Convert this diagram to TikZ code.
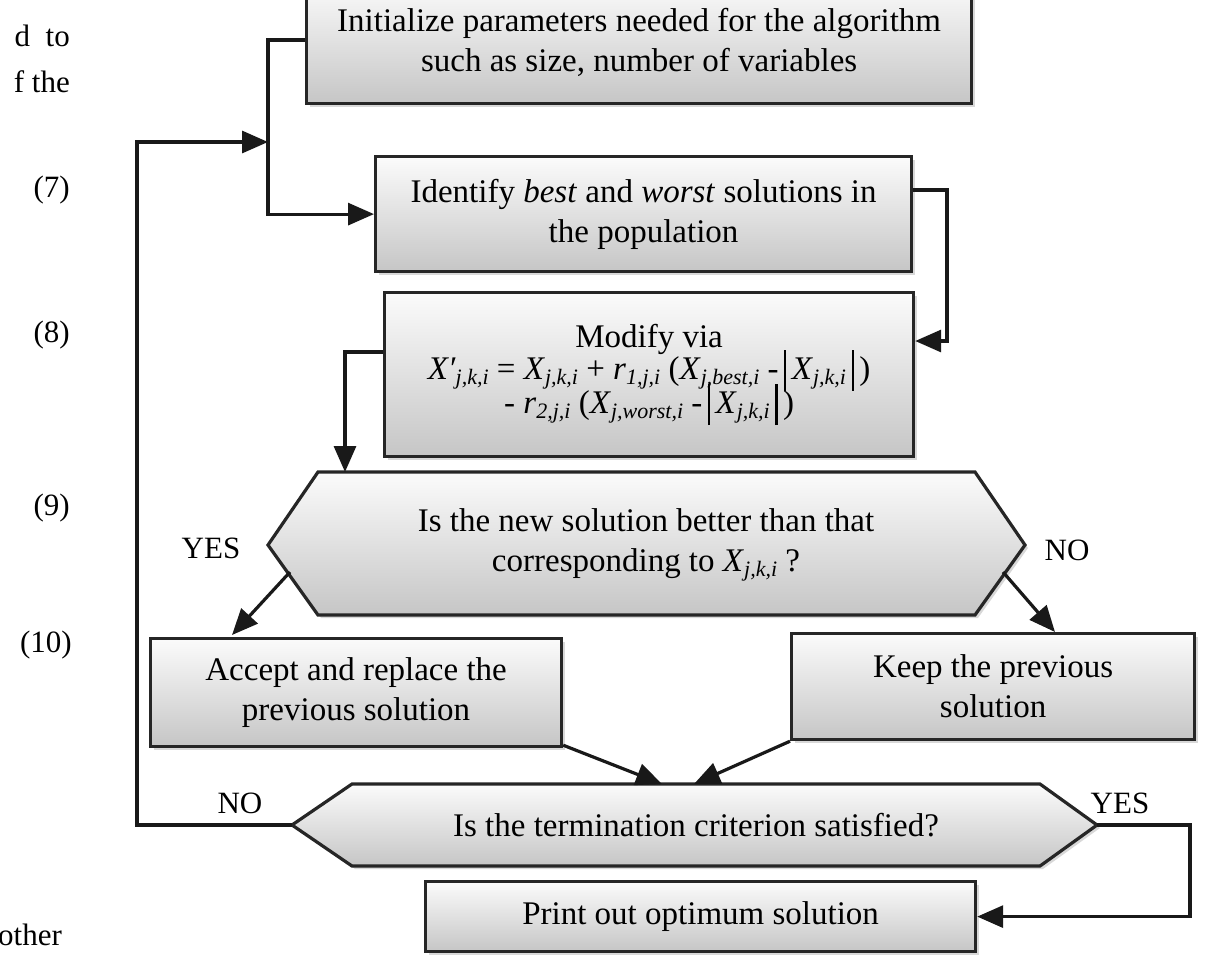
\documentclass[tikz,border=0pt]{standalone}
\usepackage{fontspec}
\setmainfont{Liberation Serif}
\usetikzlibrary{shadows,arrows.meta}
\newcommand{\sbx}[1]{\raisebox{-0.35ex}{\fontsize{22}{22}\selectfont\itshape #1}}
\newcommand{\vbar}{\,\rule[-0.35em]{2.2pt}{1.25em}\,}
\begin{document}
\begin{tikzpicture}[x=1pt,y=-1pt,
  box/.style={draw=black!85,line width=3.2pt,top color=gray!3,bottom color=gray!45,
     drop shadow={shadow xshift=3pt,shadow yshift=-3pt,fill=gray!60},
     align=center,font=\fontsize{33}{40}\selectfont,inner sep=0pt},
  hex/.style={draw=black!85,line width=3.2pt,top color=gray!3,bottom color=gray!45,
     drop shadow={shadow xshift=3pt,shadow yshift=-3pt,fill=gray!60}},
  txt/.style={font=\fontsize{33}{40}\selectfont,align=center,inner sep=0pt},
  lbl/.style={font=\fontsize{31}{34}\selectfont,inner sep=0pt},
  con/.style={line width=3.2pt,draw=black!90},
  arr/.style={con,-{Triangle[length=26pt,width=22pt]}}]
\useasboundingbox (0,0) rectangle (1214,962);
% left margin text
\node[lbl,anchor=east] (m1) at (70,36) {d\ \ to};
\node[lbl,anchor=east] (m2) at (70,82) {f the};
\node[lbl,anchor=east] (e7) at (70,190) {(7)};
\node[lbl,anchor=east] (e8) at (70,335) {(8)};
\node[lbl,anchor=east] (e9) at (70,508) {(9)};
\node[lbl,anchor=east] (e10) at (72,645) {(10)};
\node[lbl,anchor=west] (m3) at (-2,935) {other};
% boxes
\node[box,minimum width=665pt,minimum height=122pt,anchor=north west] (b1) at (305,-20)
  {\raisebox{-20pt}{\parbox{650pt}{\centering Initialize parameters needed for the algorithm\\ such as size, number of variables}}};
\node[box,minimum width=536pt,minimum height=115pt,anchor=north west] (b2) at (374,155)
  {Identify \textit{best} and \textit{worst} solutions in\\ the population};
\node[box,minimum width=529pt,minimum height=164pt,anchor=north west] (b3) at (383,291)
  {Modify via\\[-8pt]
   \textit{X′}\sbx{j,k,i} = \textit{X}\sbx{j,k,i} + \textit{r}\sbx{1,j,i} (\textit{X}\sbx{j,best,i} -\vbar\textit{X}\sbx{j,k,i}\vbar)\\[-8pt]
   - \textit{r}\sbx{2,j,i} (\textit{X}\sbx{j,worst,i} -\vbar\textit{X}\sbx{j,k,i}\vbar)};
% hexagon 1
\path[hex] (268,545) -- (318,472) -- (975,472) -- (1025,545) -- (975,615) -- (318,615) -- cycle;
\node[txt] (h1) at (646,545) {Is the new solution better than that\\ corresponding to \textit{X}\sbx{j,k,i} ?};
\coordinate (h1t) at (345,472);
\coordinate (h1l) at (290,572);
\coordinate (h1r) at (1003,572);
\node[box,minimum width=411pt,minimum height=108pt,anchor=north west] (b4) at (149,637)
  {Accept and replace the\\ previous solution};
\node[box,minimum width=403pt,minimum height=106pt,anchor=north west] (b5) at (790,632)
  {Keep the previous\\ solution};
% hexagon 2
\path[hex] (292,825) -- (352,784) -- (1040,784) -- (1097,825) -- (1040,866) -- (352,866) -- cycle;
\node[txt] (h2) at (696,825) {Is the termination criterion satisfied?};
\coordinate (h2l) at (292,825);
\coordinate (h2r) at (1097,825);
\coordinate (h2t1) at (662,784);
\coordinate (h2t2) at (694,784);
\node[box,minimum width=550pt,minimum height=70pt,anchor=north west] (b6) at (424,880)
  {Print out optimum solution};
% connectors
\coordinate (j1) at (268,142);
\draw[con] (b1.west |- 0,40) -| (j1);
\draw[arr] (j1) |- (b2.west);
\draw[arr] (h2l) -- (137,825) |- (j1);
\draw[arr] (b2.east |- 0,190) -- (947,190) |- (b3.east |- 0,341);
\draw[arr] (b3.west |- 0,352) -| (h1t);
\draw[arr] (h1l) -- (232,635);
\draw[arr] (h1r) -- (1055,632);
\draw[arr] (b4.south east) ++(0,-3) -- (h2t1);
\draw[arr] (b5.south west) -- (h2t2);
\draw[arr] (h2r) -- (1190,825) |- (b6.east);
% labels
\node[lbl] (yes1) at (211,548) {YES};
\node[lbl] (no1) at (1067,550) {NO};
\node[lbl] (no2) at (240,803) {NO};
\node[lbl] (yes2) at (1120,803) {YES};
\end{tikzpicture}
\end{document}
